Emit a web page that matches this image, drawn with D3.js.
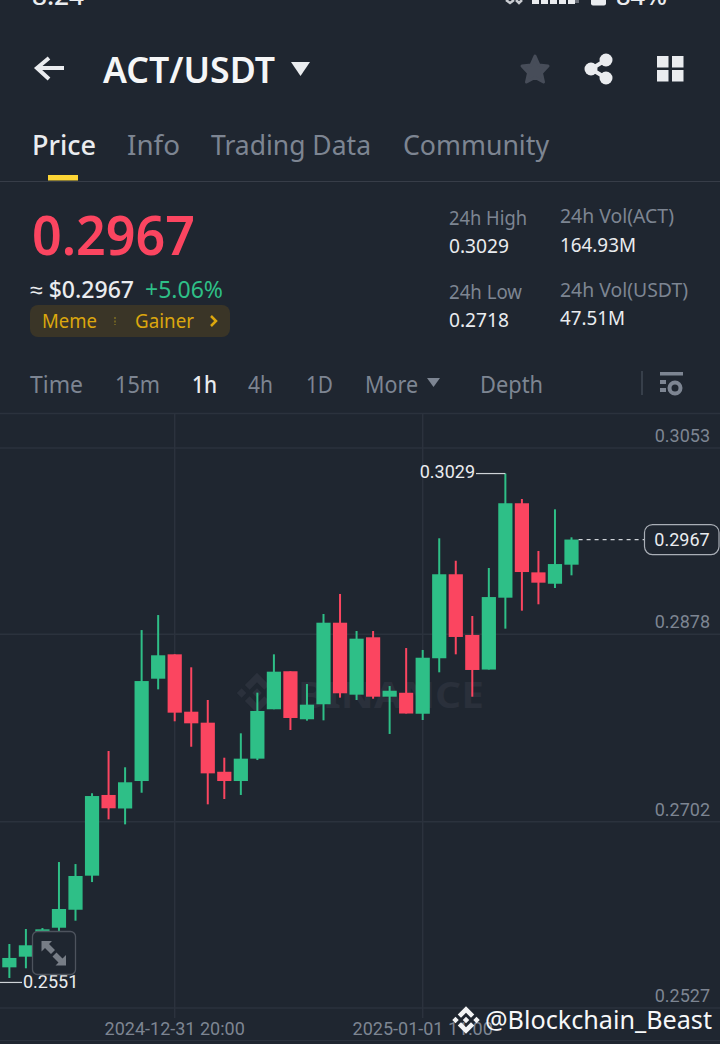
<!DOCTYPE html>
<html>
<head>
<meta charset="utf-8">
<title>ACT/USDT</title>
<script src="https://cdn.jsdelivr.net/npm/d3@7"></script>
<style>
  html, body { margin: 0; padding: 0; background: #1f2630; }
  svg { display: block; }
</style>
</head>
<body>
<div id="chart"></div>
<script>
// hourly candles, first one is 2024-12-31 09:00 (mostly off the left edge)
const firstHour = new Date(Date.UTC(2024, 11, 31, 9));
const opens  = [.26500,.25652,.25752,.25862,.26024,.26193,.26513,.27271,.27144,.27402,.28363,.28592,.28053,.27950,.27489,.27402,.27612,.28076,.28433,.27982,.28123,.28889,.28213,.28752,.28194,.28231,.28034,.28555,.29344,.28774,.28449,.29124,.30011,.29362,.29255,.29434];
const highs  = [.26660,.25871,.26012,.26021,.26641,.26622,.27287,.27684,.27531,.28820,.28961,.28592,.28470,.28163,.27621,.27850,.28232,.28592,.28433,.28313,.28971,.29159,.28811,.28811,.28294,.28651,.28633,.29682,.29471,.28952,.29403,.30290,.30051,.29563,.29954,.29691];
const lows   = [.25510,.25552,.25643,.25815,.25987,.26090,.26453,.27042,.26995,.27292,.28263,.27963,.27724,.27183,.27233,.27271,.27599,.28076,.27881,.27969,.27972,.28185,.28163,.28175,.27844,.28036,.27975,.28423,.28592,.28194,.28449,.28833,.29002,.29062,.29215,.29334];
const closes = [.25646,.25740,.25859,.26009,.26200,.26510,.27261,.27146,.27390,.28341,.28583,.28044,.27944,.27474,.27402,.27612,.28060,.28429,.27994,.28119,.28889,.28226,.28739,.28194,.28250,.28036,.28560,.29344,.28755,.28445,.29130,.30011,.29365,.29265,.29440,.29670];

const priceTicks = [0.3053, 0.2878, 0.2702, 0.2527];
const timeTicks = [
  { t: new Date(Date.UTC(2024, 11, 31, 20)), label: "2024-12-31 20:00" },
  { t: new Date(Date.UTC(2025, 0, 1, 11)), label: "2025-01-01 11:00" }
];
const lastPrice = 0.2967, highMark = 0.3029, lowMark = 0.2551;

const tabs = [["Price", 32, 96, "#eaecef"], ["Info", 127, 180, "#7d8592"], ["Trading Data", 211, 371, "#7d8592"], ["Community", 403, 549, "#7d8592"]];
const intervals = [["Time", 30, 83], ["15m", 115, 160], ["1h", 192, 217], ["4h", 248, 273], ["1D", 306, 333], ["More", 365, 418], ["Depth", 480, 543]];

const GREEN = "#2ebf87", RED = "#fb4560", GRID = "#2b323d", GREY = "#7d8592", BG = "#1f2630";
const width = 720, height = 1044;

const svg = d3.select("#chart").append("svg").attr("width", width).attr("height", height).attr("viewBox", `0 0 ${width} ${height}`);
svg.append("rect").attr("width", width).attr("height", height).attr("fill", BG);

function label(txt, x1, x2, base, size, color, weight, family) {
  return svg.append("text").attr("x", x1).attr("y", base)
    .attr("textLength", x2 - x1).attr("lengthAdjust", "spacingAndGlyphs")
    .attr("font-family", family || "'Noto Sans', sans-serif")
    .attr("font-size", size).attr("font-weight", weight || 400).attr("fill", color).text(txt);
}

// binance diamond, drawn in a 24 box
function logo(parent, cx, cy, size, color) {
  const k = size / 24;
  parent.append("path")
    .attr("transform", `translate(${cx - 12 * k},${cy - 12 * k}) scale(${k})`)
    .attr("fill", color)
    .attr("d", "M12 1L18.6 7.6L16 10.2L12 6.2L8 10.2L5.4 7.6Z M12 23L5.4 16.4L8 13.8L12 17.8L16 13.8L18.6 16.4Z M1 12L3.6 9.4L6.2 12L3.6 14.6Z M23 12L20.4 14.6L17.8 12L20.4 9.4Z M12 9.4L14.6 12L12 14.6L9.4 12Z");
}

// status bar, cut off by the top of the screenshot
label("8:24", 32, 84, 5, 25, "#eaecef", 500);
label("84%", 616, 667, 5, 25, "#eaecef", 500);
svg.append("path").attr("d", "M506 0L510 3L514 0M516 0L519 3L522 0").attr("fill", "none").attr("stroke", "#c9ccd1").attr("stroke-width", 2.5);
[532, 541, 550, 559, 568].forEach(bx => svg.append("rect").attr("x", bx).attr("y", -4).attr("width", 7).attr("height", 8).attr("fill", "#eaecef"));
svg.append("rect").attr("x", 575).attr("y", -4).attr("width", 4).attr("height", 7).attr("fill", "#6d727b");
svg.append("rect").attr("x", 591).attr("y", -8).attr("width", 15).attr("height", 13.5).attr("rx", 2).attr("fill", "#eaecef");

// header
svg.append("path").attr("d", "M64 68H37M49 58L37 68L49 79").attr("fill", "none").attr("stroke", "#eaecef").attr("stroke-width", 4);
label("ACT/USDT", 103, 275, 83, 36, "#f5f6f7", 600);
svg.append("path").attr("d", "M291 62H310L300.5 76Z").attr("fill", "#eaecef");
svg.append("path").attr("d", "M535 56L539 65L548 66L541.5 73L543.5 82L535 77.5L526.5 82L528.5 73L522 66L531 65Z")
  .attr("fill", "#474d59").attr("stroke", "#474d59").attr("stroke-width", 3).attr("stroke-linejoin", "round");
svg.append("path").attr("d", "M606 60L591 69L606 78").attr("fill", "none").attr("stroke", "#eaecef").attr("stroke-width", 4);
[[606, 60], [591, 69], [606, 78]].forEach(p => svg.append("circle").attr("cx", p[0]).attr("cy", p[1]).attr("r", 6.5).attr("fill", "#eaecef"));
[[657, 56], [672, 56], [657, 70], [672, 70]].forEach(p => svg.append("rect").attr("x", p[0]).attr("y", p[1]).attr("width", 11.5).attr("height", 11.5).attr("fill", "#eaecef"));

tabs.forEach(d => label(d[0], d[1], d[2], 155, 27, d[3], d[0] === "Price" ? 500 : 400));
svg.append("rect").attr("x", 48).attr("y", 175).attr("width", 30).attr("height", 5.5).attr("fill", "#fcd535");
svg.append("line").attr("x1", 0).attr("x2", width).attr("y1", 181.5).attr("y2", 181.5).attr("stroke", "#373d48");

// price block
label("0.2967", 32, 195, 255, 54, RED, 600);
label("≈ $0.2967", 30, 134, 298, 23, "#eaecef", 500);
label("+5.06%", 145, 223, 298, 23, GREEN, 400);
svg.append("rect").attr("x", 30).attr("y", 305).attr("width", 200).attr("height", 32).attr("rx", 8).attr("fill", "#3a3527");
label("Meme", 42, 97, 328, 20, "#dca70e");
label("Gainer", 135, 194, 328, 20, "#dca70e");
svg.append("line").attr("x1", 115).attr("x2", 115).attr("y1", 317).attr("y2", 325).attr("stroke", "#6d6023").attr("stroke-width", 2).attr("stroke-dasharray", "2,1.5");
svg.append("path").attr("d", "M211 316L216 321L211 326").attr("fill", "none").attr("stroke", "#dca70e").attr("stroke-width", 2.5);

label("24h High", 449, 527, 225, 19.5, GREY);
label("0.3029", 449, 509, 253, 19.5, "#eaecef");
label("24h Vol(ACT)", 560, 674, 223, 19.5, GREY);
label("164.93M", 560, 636, 252, 19.5, "#eaecef");
label("24h Low", 449, 522, 299, 19.5, GREY);
label("0.2718", 449, 509, 327, 19.5, "#eaecef");
label("24h Vol(USDT)", 560, 688, 297, 19.5, GREY);
label("47.51M", 560, 625, 325, 19.5, "#eaecef");

// interval row
intervals.forEach(d => label(d[0], d[1], d[2], 393, 23.5, d[0] === "1h" ? "#eaecef" : GREY, d[0] === "1h" ? 500 : 400));
svg.append("path").attr("d", "M427 378H440L433.5 387Z").attr("fill", GREY);
svg.append("line").attr("x1", 642).attr("x2", 642).attr("y1", 371).attr("y2", 395).attr("stroke", "#414853").attr("stroke-width", 1.5);
svg.append("rect").attr("x", 660).attr("y", 372).attr("width", 23).attr("height", 3.5).attr("fill", GREY);
svg.append("rect").attr("x", 660).attr("y", 380).attr("width", 6).attr("height", 4).attr("fill", GREY);
svg.append("rect").attr("x", 660).attr("y", 388).attr("width", 6).attr("height", 4).attr("fill", GREY);
svg.append("circle").attr("cx", 675).attr("cy", 388).attr("r", 5.5).attr("fill", "none").attr("stroke", GREY).attr("stroke-width", 4);
svg.append("line").attr("x1", 0).attr("x2", width).attr("y1", 413.5).attr("y2", 413.5).attr("stroke", GRID).attr("stroke-width", 1.5);

// chart scales
const x = d3.scaleUtc().domain([timeTicks[0].t, timeTicks[1].t]).range([174.7, 422.7]);
const y = d3.scaleLinear().domain([0.2527, 0.3053]).range([1008, 448]);
const bodyW = 14.2;

svg.append("g").selectAll("line").data(priceTicks).enter().append("line")
  .attr("x1", 0).attr("x2", width).attr("y1", d => y(d)).attr("y2", d => y(d))
  .attr("stroke", GRID).attr("stroke-width", 1.5);
svg.append("g").selectAll("line").data(timeTicks).enter().append("line")
  .attr("x1", d => x(d.t)).attr("x2", d => x(d.t)).attr("y1", 414).attr("y2", 1018)
  .attr("stroke", GRID).attr("stroke-width", 1.5);
svg.append("line").attr("x1", 0).attr("x2", width).attr("y1", 1040.5).attr("y2", 1040.5).attr("stroke", GRID);

// chart watermark
logo(svg, 257, 693, 44, "#2b313c");
label("BINANCE", 298, 484, 708, 36, "#2a303b", 700);

// candles
const candles = opens.map((o, i) => ({
  t: d3.utcHour.offset(firstHour, i), o, h: highs[i], l: lows[i], c: closes[i]
}));
const candle = svg.append("g").selectAll("g").data(candles).enter().append("g");
candle.append("line")
  .attr("x1", d => x(d.t)).attr("x2", d => x(d.t))
  .attr("y1", d => y(d.h)).attr("y2", d => y(d.l))
  .attr("stroke", d => d.c >= d.o ? GREEN : RED).attr("stroke-width", 2);
candle.append("rect")
  .attr("x", d => x(d.t) - bodyW / 2).attr("width", bodyW)
  .attr("y", d => y(Math.max(d.o, d.c)))
  .attr("height", d => Math.abs(y(d.o) - y(d.c)))
  .attr("fill", d => d.c >= d.o ? GREEN : RED);

// axis labels
const axisFont = "Roboto, sans-serif";
svg.append("g").selectAll("text").data(priceTicks).enter().append("text")
  .attr("x", 710).attr("y", d => y(d) - 6).attr("text-anchor", "end")
  .attr("font-family", axisFont).attr("font-size", 18).attr("fill", GREY)
  .text(d => d.toFixed(4));
svg.append("g").selectAll("text").data(timeTicks).enter().append("text")
  .attr("x", d => x(d.t)).attr("y", 1035).attr("text-anchor", "middle")
  .attr("font-family", axisFont).attr("font-size", 18).attr("fill", GREY)
  .text(d => d.label);

// high / low / last markers
const lastC = candles[candles.length - 1];
const highC = candles.find(d => d.h === highMark);
const lowC = candles.find(d => d.l === lowMark);
svg.append("line").attr("x1", 476).attr("x2", x(highC.t)).attr("y1", y(highMark)).attr("y2", y(highMark)).attr("stroke", "#cfd3d8").attr("stroke-width", 1.2);
svg.append("text").attr("x", 475).attr("y", y(highMark) + 4).attr("text-anchor", "end")
  .attr("font-family", axisFont).attr("font-size", 18).attr("fill", "#eaecef").text(highMark.toFixed(4));
svg.append("line").attr("x1", x(lowC.t)).attr("x2", 22).attr("y1", y(lowMark)).attr("y2", y(lowMark)).attr("stroke", "#cfd3d8").attr("stroke-width", 1.2);
svg.append("text").attr("x", 23).attr("y", y(lowMark) + 5.5)
  .attr("font-family", axisFont).attr("font-size", 18).attr("fill", "#eaecef").text(lowMark.toFixed(4));

svg.append("line").attr("x1", x(lastC.t) + bodyW / 2).attr("x2", 644).attr("y1", y(lastPrice)).attr("y2", y(lastPrice))
  .attr("stroke", "#cfd3d8").attr("stroke-width", 1.2).attr("stroke-dasharray", "4,4");
svg.append("rect").attr("x", 644.5).attr("y", y(lastPrice) - 15).attr("width", 74.5).attr("height", 30).attr("rx", 8)
  .attr("fill", BG).attr("stroke", "#a9aeb6").attr("stroke-width", 1.2);
svg.append("text").attr("x", 682).attr("y", y(lastPrice) + 6).attr("text-anchor", "middle")
  .attr("font-family", axisFont).attr("font-size", 18).attr("fill", "#eaecef").text(lastPrice.toFixed(4));

// expand button
svg.append("rect").attr("x", 32.5).attr("y", 931.5).attr("width", 43).attr("height", 43).attr("rx", 5)
  .attr("fill", BG).attr("stroke", "#4d535d").attr("stroke-width", 1.3);
svg.append("path").attr("fill", "#777d86")
  .attr("d", "M41.5 941H52L49 944L55 950L51 954L45 948L41.5 951.5Z");
svg.append("path").attr("fill", "#777d86")
  .attr("d", "M66 965.5H55.5L58.5 962.5L52.5 956.5L56.5 952.5L62.5 958.5L66 955Z");

// site watermark over the bottom right
logo(svg, 466, 1020, 30, "#f2f3f4");
svg.append("text").attr("x", 485).attr("y", 1029)
  .attr("textLength", 227).attr("lengthAdjust", "spacingAndGlyphs")
  .attr("font-family", "'Noto Sans', sans-serif").attr("font-size", 25.5).attr("fill", "#f7f8f9").text("@Blockchain_Beast");
</script>
</body>
</html>
